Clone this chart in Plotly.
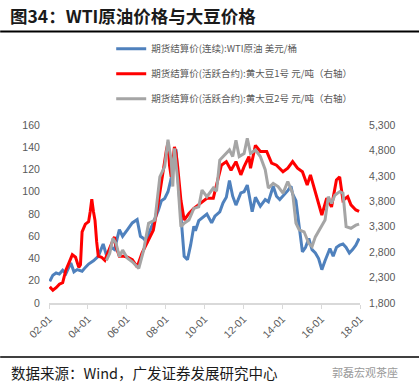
import plotly.graph_objects as go

# WTI crude oil (USD/bbl), left axis
wti_dates = ["2002-01","2002-03","2002-05","2002-07","2002-09","2002-11","2003-02","2003-04","2003-06","2003-09",
             "2003-11","2004-01","2004-04","2004-07","2004-10","2004-12","2005-03","2005-05","2005-08","2005-10",
             "2006-01","2006-04","2006-07","2006-09","2006-11","2007-01","2007-02","2007-05","2007-08","2007-10",
             "2007-12","2008-02","2008-04","2008-06","2008-07","2008-08","2008-10","2008-12","2009-02","2009-04",
             "2009-06","2009-07","2009-09","2009-12","2010-02","2010-05","2010-07","2010-10","2010-12","2011-02",
             "2011-04","2011-06","2011-08","2011-11","2012-01","2012-03","2012-06","2012-08","2012-11","2013-02",
             "2013-04","2013-07","2013-09","2013-11","2014-01","2014-04","2014-06","2014-07","2014-09","2014-11",
             "2015-01","2015-03","2015-05","2015-07","2015-09","2015-11","2016-01","2016-03","2016-06","2016-08",
             "2016-10","2016-12","2017-02","2017-04","2017-06","2017-08","2017-10","2017-12"]
wti_values = [19.5,25,27,26,29.5,26.5,36,28,30,28.5,
              32,35,38,42,53,43,50,48,66,60,
              66,72,75,60,58,54,62,72,83,92,
              94,100,112,130,138,115,75,42,39,52,
              69,65,74,78,80,72,78,82,90,95,
              110,96,88,99,100,106,82,95,87,93,
              91,105,96,93,96,101,105,98,92,70,
              46,50,58,48,45,40,30,38,49,42,
              50,52,53,50,45,48,52,58]

# Dalian soybean No.1 (CNY/t), right axis
s1_dates = ["2002-01","2002-03","2002-05","2002-07","2002-09","2002-11","2003-01","2003-03","2003-05","2003-07",
            "2003-08","2003-09","2003-11","2004-01","2004-02","2004-03","2004-04","2004-05","2004-06","2004-07",
            "2004-09","2004-11","2005-02","2005-04","2005-05","2005-06","2005-08","2005-11","2006-01","2006-04",
            "2006-07","2006-10","2007-01","2007-05","2007-08","2007-11","2008-01","2008-02","2008-03","2008-04",
            "2008-05","2008-06","2008-07","2008-08","2008-10","2008-12","2009-03","2009-06","2009-10","2010-02",
            "2010-06","2010-09","2010-11","2011-02","2011-05","2011-08","2011-11","2012-01","2012-04","2012-05",
            "2012-08","2012-11","2013-03","2013-06","2013-09","2014-01","2014-04","2014-07","2014-10","2015-01",
            "2015-04","2015-06","2015-09","2016-01","2016-04","2016-07","2016-10","2016-12","2017-02","2017-05",
            "2017-07","2017-10","2017-12"]
s1_values = [2120,2050,2100,2170,2200,2450,2600,2750,2700,2500,
             2550,3200,3350,3400,3600,3840,3600,3420,3000,2720,
             2700,2640,2880,3050,3100,2900,2720,2720,2700,2650,
             2510,2780,2980,3230,3760,4420,4800,4950,4500,4280,
             4600,4870,4750,4480,3820,3430,3560,3660,3760,3860,
             3860,4220,4510,4580,4410,4580,4320,4480,4680,4450,
             4900,4780,4780,4550,4510,4380,4450,4580,4450,4380,
             4120,4320,3960,3530,3860,3690,4220,4280,3820,3890,
             3730,3630,3600]

# Dalian soybean No.2 (CNY/t), right axis
s2_dates = ["2004-12","2005-02","2005-04","2005-06","2005-08","2005-10","2006-01","2006-04","2006-08","2006-11",
            "2007-02","2007-06","2007-09","2007-12","2008-02","2008-04","2008-05","2008-06","2008-08","2008-10",
            "2008-12","2009-03","2009-06","2009-09","2009-11","2010-02","2010-06","2010-08","2010-10","2011-01",
            "2011-04","2011-06","2011-08","2011-10","2012-01","2012-03","2012-05","2012-08","2012-11","2013-02",
            "2013-04","2013-07","2013-10","2014-01","2014-04","2014-07","2014-09","2014-11","2015-02","2015-05",
            "2015-07","2015-09","2015-12","2016-03","2016-05","2016-07","2016-09","2016-12","2017-02","2017-04",
            "2017-07","2017-10","2017-12"]
s2_values = [2640,2780,3070,2970,2710,2840,2680,2610,2480,2840,
             3370,3430,4280,4480,5010,4610,4090,4840,4220,3300,
             3370,3430,3660,3690,4020,3890,4060,4000,4610,4710,
             4810,4680,5000,4680,4740,5040,4740,4810,4680,4420,
             4060,4150,4090,3960,4190,3960,3370,3240,3200,2970,
             2910,3100,3270,3430,3890,3760,3920,3990,3960,3300,
             3270,3330,3350]

names = ["期货结算价(连续):WTI原油 美元/桶",
         "期货结算价(活跃合约):黄大豆1号 元/吨（右轴）",
         "期货结算价(活跃合约):黄大豆2号 元/吨（右轴）"]

x_tickvals = ["2002-01-01","2004-01-01","2006-01-01","2008-01-01","2010-01-01",
              "2012-01-01","2014-01-01","2016-01-01","2018-01-01"]
x_ticktext = ["02-01","04-01","06-01","08-01","10-01","12-01","14-01","16-01","18-01"]
left_ticks = [0, 20, 40, 60, 80, 100, 120, 140, 160]
right_ticks = [1800, 2300, 2800, 3300, 3800, 4300, 4800, 5300]

def d(lst):
    return [s + "-15" for s in lst]

fig = go.Figure()
fig.add_trace(go.Scatter(x=d(wti_dates), y=wti_values, name=names[0], mode="lines",
                         line=dict(color="#4F81BD", width=3), legendgroup="a", yaxis="y"))
fig.add_trace(go.Scatter(x=d(s1_dates), y=s1_values, name=names[1], mode="lines",
                         line=dict(color="#FF0000", width=3), legendgroup="b", yaxis="y2"))
fig.add_trace(go.Scatter(x=d(s2_dates), y=s2_values, name=names[2], mode="lines",
                         line=dict(color="#A5A5A5", width=3), legendgroup="c", yaxis="y2"))

tickfont = dict(family="Liberation Sans, Arial, sans-serif", size=10.5, color="#595959")

H = 178.0
top_y = 1 + (125 - 31.5) / H
fig.update_layout(
    width=419, height=386,
    margin=dict(l=49, r=59, t=125, b=83, pad=0, autoexpand=False),
    paper_bgcolor="white", plot_bgcolor="white",
    showlegend=True,
    legend=dict(x=0.2, y=1.51, xanchor="left", yanchor="top",
                font=dict(family="Noto Sans CJK SC, sans-serif", size=9.5, color="#595959"),
                tracegroupgap=6, bgcolor="rgba(0,0,0,0)", itemwidth=30),
    xaxis=dict(type="date", range=["2002-01-01", "2018-01-01"], tickvals=x_tickvals, ticktext=x_ticktext,
               tickangle=-45, tickfont=tickfont, automargin=False,
               showline=True, linecolor="#D9D9D9", linewidth=1.5,
               ticks="outside", ticklen=4, tickcolor="#D9D9D9", showgrid=False, zeroline=False),
    yaxis=dict(range=[0, 160], tickvals=left_ticks, tickfont=tickfont, showgrid=False, automargin=False,
               zeroline=False, showline=False, ticks="outside", ticklen=6, tickcolor="rgba(0,0,0,0)"),
    yaxis2=dict(range=[1800, 5300], tickvals=right_ticks, tickformat=",", overlaying="y", side="right",
                tickfont=tickfont, showgrid=False, zeroline=False, showline=False, automargin=False,
                ticks="outside", ticklen=6, tickcolor="rgba(0,0,0,0)"),
    shapes=[
        dict(type="line", xref="paper", yref="paper", x0=-0.157, x1=1.19,
             y0=-(357 - 303) / H, y1=-(357 - 303) / H,
             line=dict(color="black", width=1.5), layer="above"),
        dict(type="line", xref="paper", yref="paper", x0=-0.157, x1=1.19,
             y0=top_y, y1=top_y, line=dict(color="black", width=2), layer="below"),
    ],
    annotations=[
        dict(text="<b>图34：WTI原油价格与大豆价格</b>", xref="paper", yref="paper",
             x=-(49 - 8) / 311, y=1 + (125 - 16) / H, xanchor="left", yanchor="middle", showarrow=False,
             font=dict(family="Noto Sans CJK SC, sans-serif", size=17.5, color="#1a1a1a")),
        dict(text="数据来源：Wind，广发证券发展研究中心", xref="paper", yref="paper",
             x=-(49 - 9) / 311, y=-(372 - 303) / H, xanchor="left", yanchor="middle", showarrow=False,
             font=dict(family="Noto Sans CJK SC, sans-serif", size=14.5, color="#1a1a1a")),
        dict(text="郭磊宏观茶座", xref="paper", yref="paper",
             x=(400 - 49) / 311, y=-(372 - 303) / H, xanchor="right", yanchor="middle", showarrow=False,
             font=dict(family="Noto Sans CJK SC, sans-serif", size=11, color="#9a9a9a")),
    ],
)

fig.write_html("out.html", config={"displayModeBar": False},
               post_script="document.body.style.margin='0';document.body.style.overflow='hidden';")
